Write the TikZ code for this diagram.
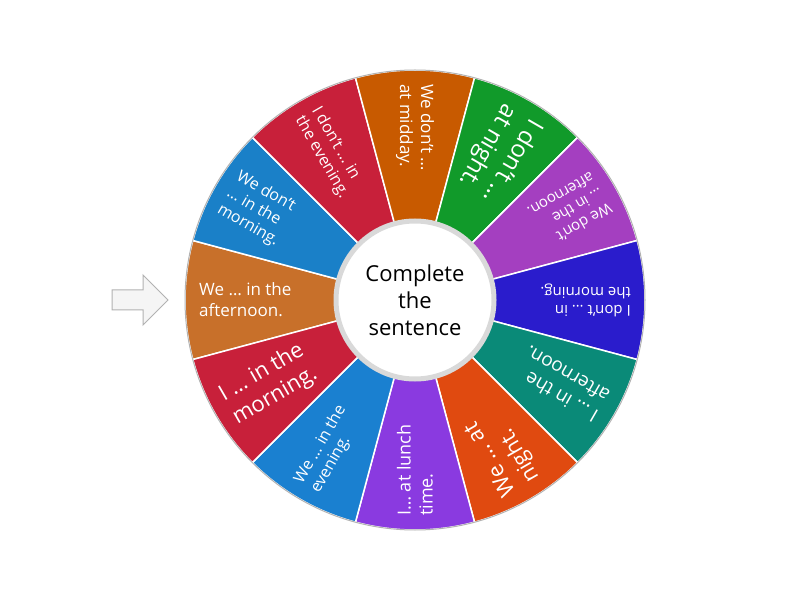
\documentclass[tikz,border=0pt]{standalone}
\usepackage{fontspec}
\setmainfont{Open Sans}
\usetikzlibrary{calc}
\begin{document}
\begin{tikzpicture}[x=1pt,y=1pt]
\useasboundingbox (0,0) rectangle (800,600);
\fill[white] (0,0) rectangle (800,600);
\def\R{230}
\coordinate (c) at (415,300);
\tikzset{lab/.style={anchor=west,align=left,text=white,inner sep=0pt}}
\foreach \a/\col/\txt/\fs/\bs in {
180/C8702A/{We … in the\\afternoon.}/17/21,
150/1A80C8/{We don’t\\… in the\\morning.}/16/19,
120/C8203A/{I don’t … in\\the evening.}/16/19,
90/C85A00/{We don’t …\\at midday.}/17/21,
60/119A2A/{I don’t …\\at night.}/24/29,
30/A43FC0/{We don’t\\… in the\\afternoon.}/15/18,
0/2A1CCC/{I don’t … in\\the morning.}/15/18,
-30/0A8A78/{I … in the\\afternoon.}/19/23,
-60/E04A10/{We … at\\night.}/22/27,
-90/8A3AE0/{I… at lunch\\time.}/18/22,
-120/1A80D0/{We … in the\\evening.}/16/19,
-150/C8203A/{I … in the\\morning.}/22/27}{
  \definecolor{segc}{HTML}{\col}
  \fill[segc,draw=white,line width=1.5pt] (c) -- ++(\a-15:\R) arc[start angle=\a-15,end angle=\a+15,radius=\R] -- cycle;
  \node[lab,rotate=\a+180,font=\fontsize{\fs}{\bs}\selectfont] (t\a) at ($(c)+(\a:216)$) {\txt};
}
\draw[gray!60,line width=1pt] (c) circle (\R);
\node[circle,fill=white,draw=gray!30,line width=5pt,minimum size=158pt,align=center,font=\fontsize{22}{27}\selectfont] (hub) at (c) {Complete\\the\\sentence};
\draw[gray!60,fill=gray!8,line width=1pt] (112,310) -- (143,310) -- (143,325) -- (168,300) -- (143,275) -- (143,290) -- (112,290) -- cycle;
\end{tikzpicture}
\end{document}
